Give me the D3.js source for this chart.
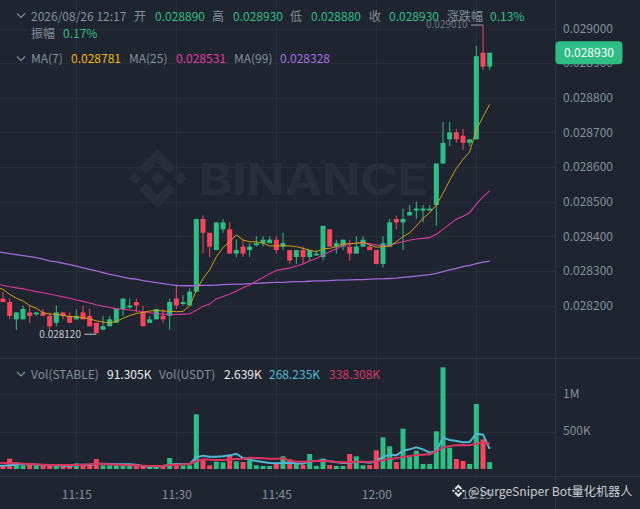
<!DOCTYPE html>
<html>
<head>
<meta charset="utf-8">
<script src="https://cdnjs.cloudflare.com/ajax/libs/d3/7.8.5/d3.min.js"></script>
<style>
  html, body { margin: 0; padding: 0; background: #1e2530; overflow: hidden; }
  text { font-family: "Noto Sans CJK SC", "Noto Sans", sans-serif; }
</style>
</head>
<body>
<div id="chart"></div>
<script>
// prices are in millionths, 28930 = 0.028930. first candle is 11:04
var opens = [28220,28210,28160,28160,28180,28180,28180,28170,28150,28180,28170,28160,28180,28170,28150,28130,28140,28150,28190,28200,28210,28180,28150,28160,28170,28170,28220,28210,28200,28240,28450,28410,28360,28420,28420,28350,28370,28360,28380,28380,28380,28390,28370,28360,28340,28360,28340,28350,28340,28420,28370,28370,28370,28350,28370,28370,28360,28320,28370,28450,28440,28460,28480,28480,28480,28490,28610,28680,28700,28690,28670,28680,28930,28890];
var highs = [28240,28220,28180,28200,28200,28180,28190,28180,28200,28180,28180,28190,28200,28190,28150,28170,28170,28190,28220,28220,28220,28200,28170,28190,28190,28220,28260,28230,28250,28450,28460,28410,28440,28450,28440,28390,28390,28380,28400,28400,28400,28400,28410,28360,28360,28370,28360,28360,28430,28420,28390,28390,28390,28400,28400,28380,28360,28400,28450,28460,28480,28490,28500,28490,28490,28610,28730,28730,28710,28710,28680,28950,29010,28930];
var lows = [28210,28160,28130,28160,28150,28170,28170,28130,28140,28160,28150,28160,28160,28140,28120,28130,28140,28150,28170,28190,28180,28140,28150,28160,28150,28130,28190,28200,28200,28240,28350,28340,28360,28410,28350,28340,28340,28340,28370,28370,28380,28350,28360,28320,28320,28320,28330,28350,28330,28370,28350,28360,28330,28350,28370,28360,28320,28310,28370,28420,28360,28460,28450,28440,28480,28430,28610,28660,28670,28650,28660,28680,28880,28880];
var closes = [28210,28170,28180,28190,28170,28180,28170,28140,28180,28170,28150,28170,28160,28140,28120,28140,28160,28190,28220,28200,28200,28140,28160,28190,28160,28210,28200,28210,28240,28450,28410,28370,28440,28440,28350,28360,28350,28370,28380,28390,28390,28360,28380,28330,28360,28340,28360,28350,28430,28370,28380,28390,28350,28370,28390,28360,28320,28380,28440,28440,28450,28470,28480,28480,28480,28610,28670,28700,28680,28670,28680,28920,28890,28930];

// moving averages start one minute earlier (11:03), that point is off the left edge
var ma7 = [28252,28247,28232,28221,28213,28200,28192,28179,28175,28175,28171,28168,28168,28165,28161,28156,28152,28150,28154,28163,28171,28177,28180,28184,28186,28184,28183,28182,28183,28199,28243,28278,28303,28341,28367,28384,28404,28389,28384,28384,28380,28372,28372,28373,28372,28370,28365,28360,28355,28364,28365,28370,28378,28378,28380,28383,28375,28368,28370,28372,28384,28399,28410,28430,28452,28468,28490,28524,28562,28596,28622,28644,28707,28745,28781];
var ma25 = [28262,28258,28254,28251,28248,28244,28240,28237,28233,28229,28225,28221,28216,28212,28207,28202,28198,28194,28191,28189,28187,28185,28182,28179,28176,28175,28174,28174,28175,28176,28186,28198,28204,28219,28226,28233,28241,28251,28259,28271,28281,28292,28301,28305,28308,28314,28320,28329,28336,28346,28355,28364,28373,28378,28380,28381,28378,28375,28371,28374,28380,28384,28389,28392,28394,28396,28406,28420,28435,28449,28458,28468,28493,28514,28531];
var ma99 = [28355,28353,28350,28347,28344,28341,28338,28334,28329,28326,28322,28318,28314,28309,28304,28300,28295,28290,28286,28282,28278,28276,28272,28269,28266,28263,28260,28258,28257,28257,28257,28258,28258,28259,28260,28261,28262,28262,28263,28264,28265,28266,28267,28267,28268,28269,28269,28270,28271,28271,28272,28273,28273,28274,28275,28275,28276,28277,28277,28278,28279,28281,28283,28285,28287,28289,28293,28298,28303,28307,28312,28316,28321,28325,28328];

// volume in thousands
var volumes = [44,138,93,49,58,40,49,62,40,35,40,75,40,49,133,49,49,49,49,49,67,40,40,49,40,147,75,49,49,729,133,49,98,89,173,102,93,111,49,40,40,67,169,129,76,53,200,40,138,53,40,40,200,169,49,53,249,422,302,93,538,164,244,67,67,502,1355,284,133,107,67,867,396,91];
var volMa5 = [44,44,49,58,67,62,58,53,49,49,44,40,58,58,53,67,71,67,62,62,62,58,36,31,36,40,58,67,67,67,156,178,164,164,169,182,204,147,124,107,93,80,76,80,84,76,71,102,107,116,102,89,80,84,93,93,84,107,160,191,182,244,262,289,262,218,236,418,387,373,356,360,471,458,268];
var volMa10 = [80,80,76,76,71,67,62,58,53,53,53,53,53,58,62,67,67,62,58,53,49,49,44,40,40,44,53,58,62,67,107,129,124,120,120,129,133,138,151,147,142,138,138,142,111,98,98,102,107,107,102,93,89,89,98,98,93,102,116,138,142,164,173,187,191,196,236,289,307,316,320,316,338,356,338];

var priceTicks = [28200,28300,28400,28500,28600,28700,28800,28900,29000];
var volTicks = [500,1000];
var volTickLabels = ["500K","1M"];
var timeTicks = [11,26,41,56,71]; // candle index
var timeLabels = ["11:15","11:30","11:45","12:00","12:15"];

var lastPrice = 28930;
var highLabel = { i: 72, value: 29010 };
var lowLabel = { i: 14, value: 28120 };

var width = 640, height = 509;
var bg = "#1e2530", grid = "#262d38", sep = "#2d3440", gray = "#848e9c";
var green = "#2ebd85", red = "#f6465d";

var svg = d3.select("#chart").append("svg")
  .attr("width", width)
  .attr("height", height)
  .style("display", "block");

svg.append("rect").attr("width", width).attr("height", height).attr("fill", bg);

// scales, fitted to the tick positions of the picture
var x = d3.scaleLinear().domain([0, 73]).range([3, 489.67]);
var y = d3.scaleLinear().domain([28200, 29000]).range([305.5, 28.5]);
var yVol = d3.scaleLinear().domain([0, 1000]).range([469, 394]);

// grid
svg.append("g").selectAll("line").data(timeTicks).enter().append("line")
  .attr("x1", d => Math.round(x(d)) + 0.5).attr("x2", d => Math.round(x(d)) + 0.5)
  .attr("y1", 0).attr("y2", 477)
  .attr("stroke", grid);
svg.append("g").selectAll("line").data(priceTicks).enter().append("line")
  .attr("x1", 0).attr("x2", 555)
  .attr("y1", d => Math.round(y(d)) + 0.5).attr("y2", d => Math.round(y(d)) + 0.5)
  .attr("stroke", grid);
svg.append("g").selectAll("line").data(volTicks).enter().append("line")
  .attr("x1", 0).attr("x2", 555)
  .attr("y1", d => Math.round(yVol(d)) + 0.5).attr("y2", d => Math.round(yVol(d)) + 0.5)
  .attr("stroke", grid);

// watermark
var logoPath = "M38.73 53.2l24.59-24.58 24.6 24.6 14.3-14.31L63.32 0 24.43 38.9zM0 63.31l14.3-14.31 14.31 14.31-14.31 14.3zM38.73 73.41l24.59 24.59 24.6-24.6 14.31 14.29-38.9 38.91-38.91-38.88zM98 63.31l14.3-14.31 14.31 14.3-14.31 14.32zM77.83 63.3L63.32 48.78 52.59 59.51l-1.24 1.23-2.54 2.54 14.51 14.5 14.51-14.47z";
svg.append("path")
  .attr("d", logoPath)
  .attr("transform", "translate(128,149) scale(0.466)")
  .attr("fill", "#282e39");
svg.append("text")
  .attr("x", 199).attr("y", 195)
  .attr("textLength", 229)
  .attr("lengthAdjust", "spacingAndGlyphs")
  .attr("font-size", 44)
  .attr("font-weight", 700)
  .style("font-family", "Inter, sans-serif")
  .attr("fill", "#282e39")
  .text("BINANCE");

// separators
svg.append("line").attr("x1", 0).attr("x2", 640).attr("y1", 358.5).attr("y2", 358.5).attr("stroke", sep);
svg.append("line").attr("x1", 0).attr("x2", 640).attr("y1", 476.5).attr("y2", 476.5).attr("stroke", sep);
svg.append("line").attr("x1", 555.5).attr("x2", 555.5).attr("y1", 0).attr("y2", 509).attr("stroke", sep);

// candles
var idx = d3.range(opens.length);
var color = i => closes[i] >= opens[i] ? green : red;

svg.append("g").selectAll("line").data(idx).enter().append("line")
  .attr("x1", d => x(d)).attr("x2", d => x(d))
  .attr("y1", d => y(highs[d])).attr("y2", d => y(lows[d]))
  .attr("stroke", d => color(d))
  .attr("stroke-width", 1);

svg.append("g").selectAll("rect").data(idx).enter().append("rect")
  .attr("x", d => x(d) - 2.5)
  .attr("width", 5)
  .attr("y", d => Math.min(y(opens[d]), y(closes[d])))
  .attr("height", d => Math.max(2, Math.abs(y(opens[d]) - y(closes[d]))))
  .attr("fill", d => color(d));

// moving averages
var maLine = d3.line().x((d, i) => x(i - 1)).y(d => y(d));
[[ma99, "#a06ad8", 1.3], [ma25, "#d9389f", 1.1], [ma7, "#d29e10", 1]].forEach(function (s) {
  svg.append("path").attr("d", maLine(s[0]))
    .attr("fill", "none").attr("stroke", s[1]).attr("stroke-width", s[2]);
});

// volume bars
svg.append("g").selectAll("rect").data(idx).enter().append("rect")
  .attr("x", d => x(d) - 2.5)
  .attr("width", 5)
  .attr("y", d => yVol(volumes[d]))
  .attr("height", d => yVol(0) - yVol(volumes[d]))
  .attr("fill", d => color(d));

var volLine = d3.line().x((d, i) => x(i - 1)).y(d => yVol(d));
[[volMa5, "#4fb9d4"], [volMa10, "#d9365f"]].forEach(function (s) {
  svg.append("path").attr("d", volLine(s[0]))
    .attr("fill", "none").attr("stroke", s[1]).attr("stroke-width", 2);
});

// axes
var priceAxis = d3.axisRight(y).tickValues(priceTicks).tickSize(0).tickPadding(0)
  .tickFormat(d => d3.format(".6f")(d / 1e6));
var pg = svg.append("g").attr("transform", "translate(563,0)").call(priceAxis);
pg.select(".domain").remove();
pg.selectAll("text").attr("font-size", 12).attr("fill", gray).style("font-family", null);

var volAxis = d3.axisRight(yVol).tickValues(volTicks).tickSize(0).tickPadding(0)
  .tickFormat((d, i) => volTickLabels[i]);
var vg = svg.append("g").attr("transform", "translate(563,-0.5)").call(volAxis);
vg.select(".domain").remove();
vg.selectAll("text").attr("font-size", 12).attr("fill", gray).style("font-family", null);

var timeAxis = d3.axisBottom(x).tickValues(timeTicks).tickSize(0).tickPadding(0)
  .tickFormat((d, i) => timeLabels[i]);
var tg = svg.append("g").attr("transform", "translate(0,490)").call(timeAxis);
tg.select(".domain").remove();
tg.selectAll("text").attr("font-size", 12).attr("fill", gray).style("font-family", null);

// last price tag
svg.append("rect")
  .attr("x", 555.5).attr("y", y(lastPrice) - 11.5)
  .attr("width", 67).attr("height", 23).attr("rx", 4)
  .attr("fill", green);
svg.append("text")
  .attr("x", 589).attr("y", y(lastPrice) + 0.5)
  .attr("text-anchor", "middle").attr("dominant-baseline", "middle")
  .attr("font-size", 12).attr("fill", "#ffffff")
  .text(d3.format(".6f")(lastPrice / 1e6));

function put(px, py, str, fill, size) {
  return svg.append("text")
    .attr("x", px).attr("y", py)
    .attr("dominant-baseline", "middle")
    .attr("font-size", size || 12)
    .attr("fill", fill)
    .text(str);
}

// high and low labels on the chart
put(x(highLabel.i) - 57, y(highLabel.value) + 0.5, d3.format(".6f")(highLabel.value / 1e6), "#6d7582", 10);
svg.append("line")
  .attr("x1", x(highLabel.i) - 12).attr("x2", x(highLabel.i))
  .attr("y1", y(highLabel.value)).attr("y2", y(highLabel.value))
  .attr("stroke", "#9aa1ad");
put(x(lowLabel.i) - 57, y(lowLabel.value) + 2, d3.format(".6f")(lowLabel.value / 1e6), "#c4c9d1", 10);
svg.append("line")
  .attr("x1", x(lowLabel.i) - 12).attr("x2", x(lowLabel.i))
  .attr("y1", y(lowLabel.value) + 1).attr("y2", y(lowLabel.value) + 1)
  .attr("stroke", "#c4c9d1");

// legends
var chevrons = [15.5, 58.5, 374];
svg.append("g").selectAll("path").data(chevrons).enter().append("path")
  .attr("d", d => "M17 " + (d - 2) + "l4 4l4 -4")
  .attr("fill", "none").attr("stroke", gray).attr("stroke-width", 1.1);

put(31, 17.5, "2026/08/26 12:17", gray);
put(134, 17.5, "开", gray);
put(155, 17.5, "0.028890", green);
put(212, 17.5, "高", gray);
put(233, 17.5, "0.028930", green);
put(290, 17.5, "低", gray);
put(311, 17.5, "0.028880", green);
put(369, 17.5, "收", gray);
put(389, 17.5, "0.028930", green);
put(447, 17.5, "涨跌幅", gray);
put(490, 17.5, "0.13%", green);
put(31, 34.5, "振幅", gray);
put(63, 34.5, "0.17%", green);

put(31, 59.5, "MA(7)", gray);
put(71, 59.5, "0.028781", "#f0b90b");
put(129, 59.5, "MA(25)", gray);
put(176, 59.5, "0.028531", "#e0399e");
put(234, 59.5, "MA(99)", gray);
put(280, 59.5, "0.028328", "#a56fe0");

put(31, 375.5, "Vol(STABLE)", gray);
put(107, 375.5, "91.305K", "#eaecef");
put(159, 375.5, "Vol(USDT)", gray);
put(224, 375.5, "2.639K", "#eaecef");
put(269, 375.5, "268.235K", "#4fb9d4");
put(329, 375.5, "338.308K", "#d9365f");

// reposter mark, bottom right
svg.append("path")
  .attr("d", logoPath)
  .attr("transform", "translate(452,484.5) scale(0.1)")
  .attr("fill", "#e6e8ec");
put(468, 492.5, "@SurgeSniper Bot量化机器人", "#c9ccd2", 12.2);
</script>
</body>
</html>
